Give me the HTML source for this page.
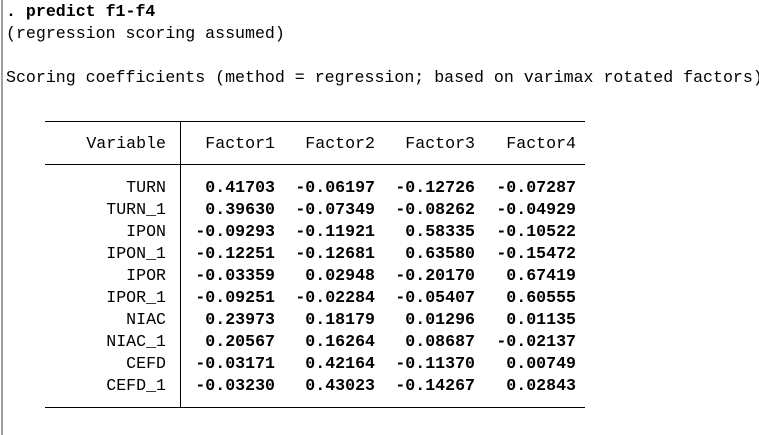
<!DOCTYPE html>
<html><head><meta charset="utf-8"><style>
body{margin:0;width:759px;height:435px;background:#fff;position:relative;overflow:hidden;font-family:"Liberation Mono","Courier New",monospace;font-size:16.6px;color:#000}
.l{position:absolute;white-space:pre;line-height:22px;height:22px}
.r{position:absolute;white-space:pre;line-height:22px;text-align:right}
.b{font-weight:bold}
.h{position:absolute;left:45px;width:540px;height:1px;background:#000}
</style></head><body>
<div style="position:absolute;left:1px;top:0;width:2px;height:435px;background:#a0a0a0"></div>
<div class="l b" style="left:6px;top:1px">. predict f1-f4</div>
<div class="l" style="left:6px;top:23px">(regression scoring assumed)</div>
<div class="l" style="left:6px;top:67px">Scoring coefficients (method = regression; based on varimax rotated factors)</div>
<div class="h" style="top:121px"></div>
<div class="h" style="top:164px"></div>
<div class="h" style="top:407px"></div>
<div style="position:absolute;left:180px;top:121px;width:1px;height:287px;background:#000"></div>
<div id="t"></div>
<script>
const rows=[["TURN","0.41703","-0.06197","-0.12726","-0.07287"],["TURN_1","0.39630","-0.07349","-0.08262","-0.04929"],["IPON","-0.09293","-0.11921","0.58335","-0.10522"],["IPON_1","-0.12251","-0.12681","0.63580","-0.15472"],["IPOR","-0.03359","0.02948","-0.20170","0.67419"],["IPOR_1","-0.09251","-0.02284","-0.05407","0.60555"],["NIAC","0.23973","0.18179","0.01296","0.01135"],["NIAC_1","0.20567","0.16264","0.08687","-0.02137"],["CEFD","-0.03171","0.42164","-0.11370","0.00749"],["CEFD_1","-0.03230","0.43023","-0.14267","0.02843"]];
const rights=[166,275,375,475,576];
let h="";
const hdr=["Variable","Factor1","Factor2","Factor3","Factor4"];
hdr.forEach((t,i)=>h+=`<div class="r" style="right:${759-rights[i]}px;top:133px">${t}</div>`);
rows.forEach((r,j)=>r.forEach((t,i)=>h+=`<div class="r${i?' b':''}" style="right:${759-rights[i]}px;top:${177+j*22}px">${t}</div>`));
document.getElementById("t").innerHTML=h;
</script>
</body></html>
